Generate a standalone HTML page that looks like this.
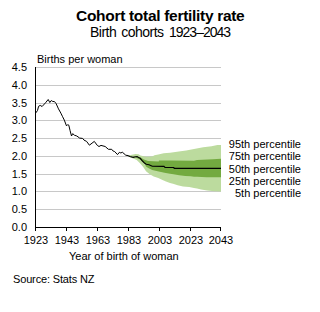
<!DOCTYPE html>
<html><head><meta charset="utf-8">
<style>
html,body{margin:0;padding:0;background:#fff;}
body{width:314px;height:312px;position:relative;overflow:hidden;font-family:"Liberation Sans",sans-serif;color:#000;}
.t{position:absolute;white-space:nowrap;line-height:1;}
#title{left:76px;top:8px;font-size:15.5px;font-weight:bold;letter-spacing:-0.3px;}
#sub{left:90px;top:25px;font-size:14px;letter-spacing:-0.5px;word-spacing:1.5px;}
#sub2{left:169px;top:25px;font-size:14px;letter-spacing:-1px;}
#bpw{left:37px;top:54px;font-size:11px;}
.yl{font-size:11px;right:287px;text-align:right;}
.xl{font-size:11px;width:40px;text-align:center;}
.pl{font-size:11px;right:13px;text-align:right;}
#yob{left:69px;top:251px;font-size:11px;}
#src{left:13px;top:274px;font-size:11px;letter-spacing:-0.15px;}
svg{position:absolute;left:0;top:0;}
</style></head><body>
<div class="t" id="title">Cohort total fertility rate</div>
<div class="t" id="sub">Birth cohorts</div>
<div class="t" id="sub2">1923–2043</div>
<div class="t" id="bpw">Births per woman</div>

<div class="t yl" style="top:62px">4.5</div>
<div class="t yl" style="top:80px">4.0</div>
<div class="t yl" style="top:98px">3.5</div>
<div class="t yl" style="top:115px">3.0</div>
<div class="t yl" style="top:133px">2.5</div>
<div class="t yl" style="top:151px">2.0</div>
<div class="t yl" style="top:169px">1.5</div>
<div class="t yl" style="top:186px">1.0</div>
<div class="t yl" style="top:204px">0.5</div>
<div class="t yl" style="top:222px">0.0</div>

<svg width="314" height="312" viewBox="0 0 314 312">
  <g stroke="#c8c8c8" stroke-width="1" shape-rendering="crispEdges">
    <line x1="36" y1="67.5" x2="221" y2="67.5"/>
    <line x1="36" y1="85.5" x2="221" y2="85.5"/>
    <line x1="36" y1="103.5" x2="221" y2="103.5"/>
    <line x1="36" y1="120.5" x2="221" y2="120.5"/>
    <line x1="36" y1="138.5" x2="221" y2="138.5"/>
    <line x1="36" y1="156.5" x2="221" y2="156.5"/>
    <line x1="36" y1="174.5" x2="221" y2="174.5"/>
    <line x1="36" y1="191.5" x2="221" y2="191.5"/>
    <line x1="36" y1="209.5" x2="221" y2="209.5"/>
  </g>
  <!-- bands -->
  <polygon fill="#bcdb9e" points="128.3,155.6 135.5,154.1 138.6,154.3 140.5,155.6 146,156.8 152.2,156.4 154.5,155.2 158.3,154.5 163.7,153.3 170,152.8 178.8,151.6 186.2,150.5 194,149.1 203.2,147.3 211.6,146.2 217.4,145 221,145 221,191.5 214.4,191.2 207.3,190.5 201.1,189.4 197,188.6 194,188 189.2,187 183,186.4 177.7,185.2 173,183.7 170,183 166,181.5 162.5,180 158.3,178.1 153.7,176.5 149.8,174.2 146,171.2 145.2,170 143.2,166.9 140.5,163.8 136.7,160 135.5,159.5 132.5,158.3 128.3,156.6"/>
  <polygon fill="#73aa40" points="133.2,156.5 140.5,157.5 144,159.5 148,161 158.7,161.4 159,160.6 170,160.6 194,160.8 197,160 212.8,159.2 221,158.8 221,177.3 206.7,177.3 197,176.8 194,176.7 190.8,176.3 185.4,175.9 179.2,175.2 173.5,174.3 170,173.7 164.5,172.7 158.7,171.5 152.2,170 148.3,168.1 146,166.5 144.8,163.5 143.2,162.5 140.2,159.5 135.5,157.5 133.2,157"/>
  <polyline fill="none" stroke="#000" stroke-width="1" stroke-linejoin="miter" points="35.8,112.9 37.5,110.5 38.6,106.3 40.2,105.4 42.1,106.5 45.5,102.8 48.2,99.5 49.8,102.5 51.3,100.5 52.8,101.5 54.4,101.5 56.1,103.6 58.5,108.9 60.9,113.2 62.4,116.3 64.3,120.1 66.5,125.9 67.7,124.6 68.8,125.2 70.1,130.7 71.5,136 72.7,133.6 74.4,135.2 76.8,136 79.7,138.1 82.6,138.4 84,140.1 86.6,141.4 89.4,145.2 94.3,141.4 97.3,145.4 99,146.5 101,145.4 105.2,146.5 108.4,149.3 111.7,149.3 113.2,151.1 114.6,151.5 117.5,154.6 119.4,152.3 120.9,153 122.3,152.2 125.8,155.2"/>
  <polyline fill="none" stroke="#000" stroke-width="1.15" stroke-linejoin="miter" points="125.8,155.2 127.7,155.5 129.9,156.5 133.2,157.4 135.5,156.7 137.1,156.5 138.6,157.4 140.2,158.3 142.5,161 144.8,163.3 146.3,164.3 149,164.7 152.3,166.3 164,166.4 165,167.4 173.8,167.5 174.2,168.4 221,168.4"/>
  <g stroke="#000" stroke-width="1" shape-rendering="crispEdges">
    <line x1="35.5" y1="67" x2="35.5" y2="228"/>
    <line x1="35" y1="227.5" x2="221" y2="227.5"/>
    <line x1="35.5" y1="227" x2="35.5" y2="231"/>
    <line x1="66.5" y1="227" x2="66.5" y2="231"/>
    <line x1="97.5" y1="227" x2="97.5" y2="231"/>
    <line x1="128.5" y1="227" x2="128.5" y2="231"/>
    <line x1="159.5" y1="227" x2="159.5" y2="231"/>
    <line x1="190.5" y1="227" x2="190.5" y2="231"/>
    <line x1="220.5" y1="227" x2="220.5" y2="231"/>
  </g>
</svg>

<div class="t xl" style="left:16px;top:235px">1923</div>
<div class="t xl" style="left:47px;top:235px">1943</div>
<div class="t xl" style="left:78px;top:235px">1963</div>
<div class="t xl" style="left:109px;top:235px">1983</div>
<div class="t xl" style="left:140px;top:235px">2003</div>
<div class="t xl" style="left:171px;top:235px">2023</div>
<div class="t xl" style="left:201px;top:235px">2043</div>

<div class="t pl" style="top:139px">95th percentile</div>
<div class="t pl" style="top:151px">75th percentile</div>
<div class="t pl" style="top:164px">50th percentile</div>
<div class="t pl" style="top:176px">25th percentile</div>
<div class="t pl" style="top:188px">5th percentile</div>

<div class="t" id="yob">Year of birth of woman</div>
<div class="t" id="src">Source: Stats NZ</div>
</body></html>
